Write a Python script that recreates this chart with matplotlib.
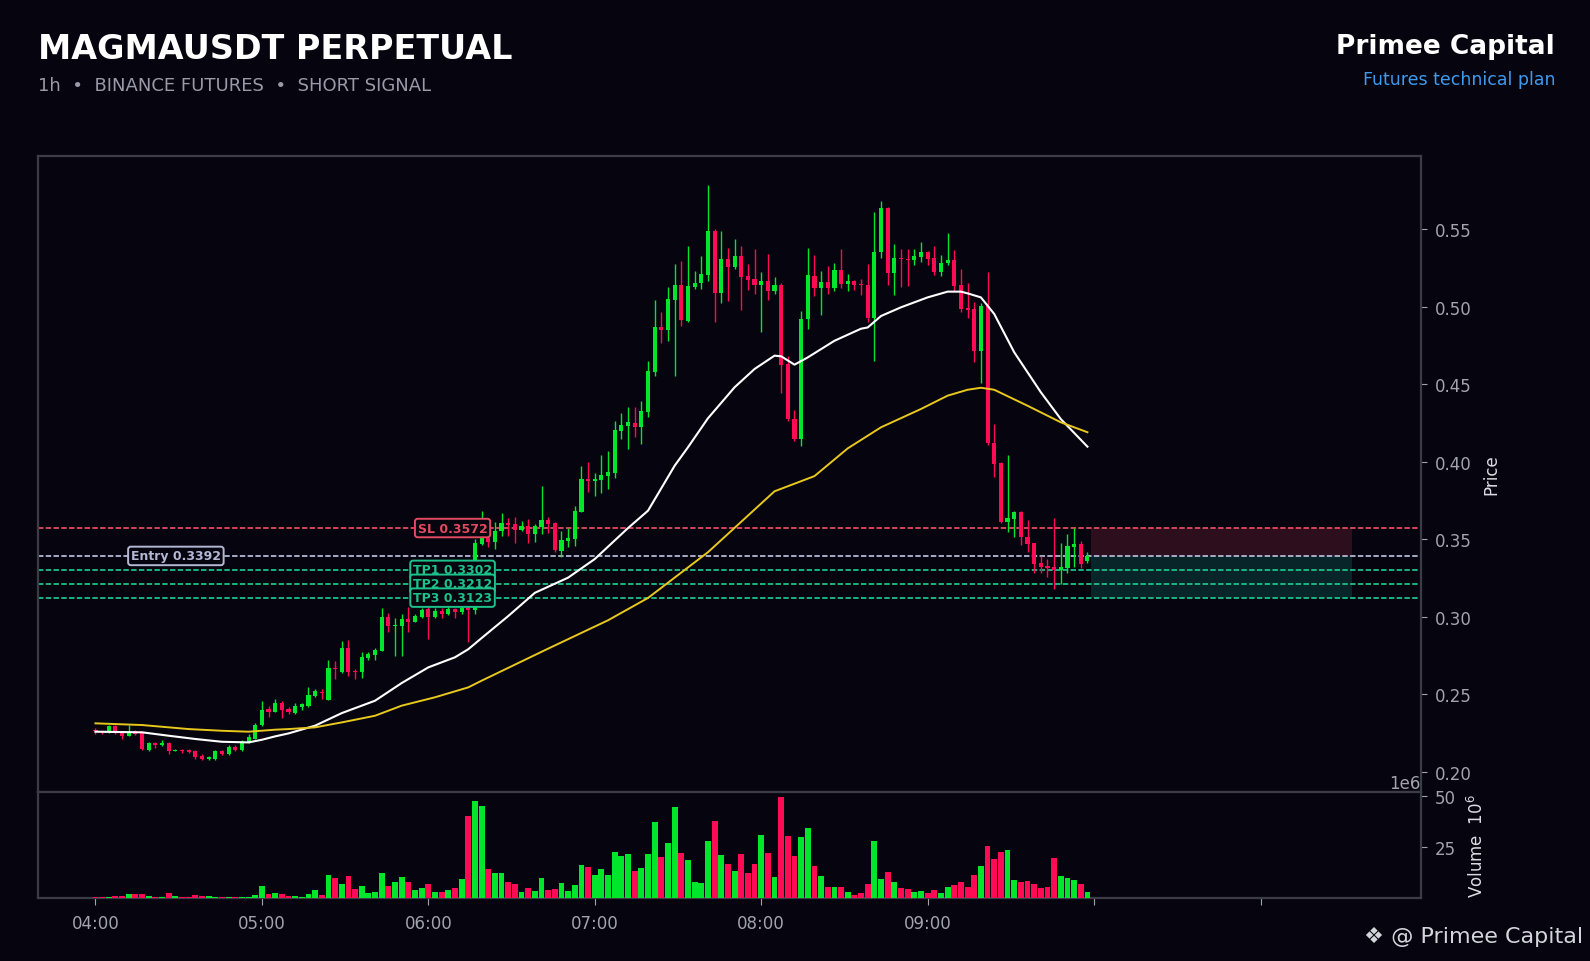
import numpy as np
import matplotlib
matplotlib.use("Agg")
import matplotlib.pyplot as plt
import matplotlib.transforms as mtransforms
from matplotlib.patches import Rectangle
from matplotlib.ticker import ScalarFormatter, FormatStrFormatter

# candles (2.4 min each, 25 per hour, first one at 04:00)
opens = [0.2271, 0.2260, 0.2265, 0.2294, 0.2253, 0.2232, 0.2260, 0.2249, 0.2140, 0.2188,
         0.2175, 0.2186, 0.2136, 0.2142, 0.2142, 0.2134, 0.2101, 0.2081, 0.2081, 0.2134,
         0.2114, 0.2162, 0.2140, 0.2190, 0.2212, 0.2301, 0.2404, 0.2388, 0.2445, 0.2406,
         0.2379, 0.2419, 0.2425, 0.2490, 0.2516, 0.2462, 0.2668, 0.2640, 0.2799, 0.2650,
         0.2644, 0.2734, 0.2755, 0.2781, 0.2998, 0.2941, 0.2941, 0.2985, 0.2967, 0.3000,
         0.3051, 0.3000, 0.3038, 0.3016, 0.3051, 0.3029, 0.3059, 0.3040, 0.3467, 0.3505,
         0.3482, 0.3554, 0.3605, 0.3596, 0.3559, 0.3583, 0.3535, 0.3581, 0.3625, 0.3605,
         0.3426, 0.3489, 0.3500, 0.3676, 0.3887, 0.3876, 0.3880, 0.3909, 0.3926, 0.4200,
         0.4230, 0.4250, 0.4226, 0.4321, 0.4580, 0.4867, 0.4849, 0.5042, 0.5139, 0.4908,
         0.5130, 0.5156, 0.5206, 0.5487, 0.5088, 0.5306, 0.5256, 0.5324, 0.5198, 0.5178,
         0.5141, 0.5165, 0.5102, 0.5143, 0.4630, 0.4273, 0.4145, 0.4919, 0.5198, 0.5119,
         0.5158, 0.5119, 0.5237, 0.5145, 0.5165, 0.5145, 0.5139, 0.4926, 0.5352, 0.5634,
         0.5217, 0.5313, 0.5306, 0.5302, 0.5321, 0.5354, 0.5313, 0.5224, 0.5280, 0.5300,
         0.5139, 0.4993, 0.4985, 0.4714, 0.5006, 0.4123, 0.3992, 0.3609, 0.3631, 0.3676,
         0.3515, 0.3474, 0.3346, 0.3326, 0.3322, 0.3302, 0.3313, 0.3452, 0.3467, 0.3359]
highs = [0.2282, 0.2263, 0.2301, 0.2301, 0.2258, 0.2301, 0.2271, 0.2260, 0.2190, 0.2193,
         0.2206, 0.2190, 0.2147, 0.2149, 0.2147, 0.2138, 0.2114, 0.2099, 0.2138, 0.2140,
         0.2173, 0.2173, 0.2204, 0.2243, 0.2314, 0.2458, 0.2423, 0.2468, 0.2456, 0.2415,
         0.2440, 0.2440, 0.2545, 0.2534, 0.2532, 0.2721, 0.2716, 0.2843, 0.2847, 0.2662,
         0.2773, 0.2775, 0.2801, 0.3059, 0.3024, 0.2990, 0.3016, 0.3063, 0.3018, 0.3054,
         0.3061, 0.3055, 0.3055, 0.3063, 0.3057, 0.3080, 0.3150, 0.3504, 0.3682, 0.3508,
         0.3613, 0.3672, 0.3636, 0.3642, 0.3618, 0.3631, 0.3596, 0.3842, 0.3642, 0.3611,
         0.3554, 0.3570, 0.3715, 0.3970, 0.3996, 0.3924, 0.4045, 0.4068, 0.4262, 0.4317,
         0.4356, 0.4356, 0.4391, 0.4652, 0.5041, 0.4967, 0.5128, 0.5278, 0.5293, 0.5389,
         0.5232, 0.5324, 0.5785, 0.5500, 0.5491, 0.5376, 0.5439, 0.5389, 0.5278, 0.5372,
         0.5222, 0.5339, 0.5189, 0.5156, 0.4682, 0.4332, 0.4970, 0.5376, 0.5332, 0.5232,
         0.5261, 0.5284, 0.5372, 0.5209, 0.5172, 0.5178, 0.5278, 0.5612, 0.5682, 0.5645,
         0.5404, 0.5372, 0.5372, 0.5372, 0.5416, 0.5358, 0.5389, 0.5332, 0.5473, 0.5365,
         0.5244, 0.5156, 0.5032, 0.5025, 0.5226, 0.4240, 0.3997, 0.4040, 0.3682, 0.3682,
         0.3625, 0.3478, 0.3390, 0.3372, 0.3636, 0.3478, 0.3533, 0.3570, 0.3489, 0.3416]
lows = [0.2243, 0.2243, 0.2249, 0.2243, 0.2214, 0.2228, 0.2234, 0.2142, 0.2136, 0.2153,
        0.2168, 0.2116, 0.2132, 0.2120, 0.2123, 0.2081, 0.2076, 0.2078, 0.2078, 0.2107,
        0.2107, 0.2136, 0.2136, 0.2184, 0.2208, 0.2295, 0.2355, 0.2384, 0.2349, 0.2375,
        0.2370, 0.2401, 0.2420, 0.2482, 0.2468, 0.2460, 0.2599, 0.2635, 0.2619, 0.2599,
        0.2606, 0.2721, 0.2721, 0.2779, 0.2898, 0.2749, 0.2749, 0.2898, 0.2965, 0.2992,
        0.2859, 0.2990, 0.2990, 0.3011, 0.2990, 0.3018, 0.2835, 0.3020, 0.3461, 0.3450,
        0.3435, 0.3522, 0.3518, 0.3474, 0.3551, 0.3474, 0.3482, 0.3535, 0.3537, 0.3416,
        0.3383, 0.3452, 0.3456, 0.3673, 0.3803, 0.3777, 0.3798, 0.3826, 0.3892, 0.4145,
        0.4084, 0.4160, 0.4117, 0.4291, 0.4550, 0.4765, 0.4776, 0.4550, 0.4875, 0.4904,
        0.5113, 0.5113, 0.5163, 0.4901, 0.5025, 0.5036, 0.5245, 0.4976, 0.5108, 0.5080,
        0.4839, 0.5043, 0.5080, 0.4445, 0.4262, 0.4134, 0.4101, 0.4858, 0.5069, 0.4947,
        0.5082, 0.5098, 0.5121, 0.5098, 0.5108, 0.5078, 0.4904, 0.4649, 0.5317, 0.5139,
        0.5073, 0.5130, 0.5134, 0.5267, 0.5291, 0.5267, 0.5204, 0.5196, 0.5267, 0.5101,
        0.4967, 0.4924, 0.4642, 0.4510, 0.4106, 0.3898, 0.3603, 0.3548, 0.3511, 0.3461,
        0.3420, 0.3280, 0.3280, 0.3259, 0.3179, 0.3208, 0.3285, 0.3318, 0.3313, 0.3346]
closes = [0.2260, 0.2256, 0.2294, 0.2265, 0.2232, 0.2253, 0.2243, 0.2147, 0.2186, 0.2173,
          0.2188, 0.2135, 0.2142, 0.2134, 0.2127, 0.2096, 0.2081, 0.2092, 0.2134, 0.2112,
          0.2162, 0.2140, 0.2190, 0.2221, 0.2301, 0.2399, 0.2388, 0.2445, 0.2399, 0.2384,
          0.2427, 0.2434, 0.2494, 0.2519, 0.2505, 0.2668, 0.2660, 0.2799, 0.2644, 0.2644,
          0.2740, 0.2760, 0.2788, 0.2998, 0.2941, 0.2948, 0.2985, 0.2967, 0.3007, 0.3046,
          0.3000, 0.3038, 0.3016, 0.3051, 0.3029, 0.3059, 0.3040, 0.3474, 0.3511, 0.3482,
          0.3554, 0.3605, 0.3592, 0.3561, 0.3583, 0.3533, 0.3583, 0.3625, 0.3600, 0.3433,
          0.3494, 0.3507, 0.3681, 0.3887, 0.3876, 0.3887, 0.3913, 0.3933, 0.4204, 0.4237,
          0.4258, 0.4226, 0.4326, 0.4585, 0.4867, 0.4849, 0.5047, 0.5139, 0.4915, 0.5132,
          0.5156, 0.5211, 0.5487, 0.5088, 0.5306, 0.5256, 0.5324, 0.5193, 0.5172, 0.5141,
          0.5165, 0.5102, 0.5143, 0.4626, 0.4273, 0.4145, 0.4919, 0.5204, 0.5119, 0.5158,
          0.5119, 0.5237, 0.5145, 0.5165, 0.5141, 0.5143, 0.4926, 0.5352, 0.5634, 0.5217,
          0.5313, 0.5306, 0.5300, 0.5326, 0.5354, 0.5306, 0.5224, 0.5280, 0.5300, 0.5134,
          0.4985, 0.4980, 0.4714, 0.5006, 0.4119, 0.3985, 0.3609, 0.3636, 0.3676, 0.3511,
          0.3467, 0.3339, 0.3318, 0.3313, 0.3302, 0.3318, 0.3456, 0.3467, 0.3339, 0.3389]
# volume in millions
volume_m = [0.5, 0.5, 0.5, 1.0, 1.0, 2.0, 2.0, 2.0, 1.0, 0.5,
            0.5, 2.5, 1.0, 0.5, 0.5, 1.5, 1.0, 1.0, 0.5, 0.5,
            0.5, 0.5, 0.5, 0.5, 1.5, 5.9, 2.0, 2.5, 2.0, 1.0,
            1.0, 0.5, 2.0, 3.9, 1.5, 11.3, 9.8, 6.9, 10.8, 4.4,
            5.9, 2.5, 3.0, 12.3, 5.9, 7.9, 10.3, 7.9, 3.9, 4.9,
            6.9, 3.0, 3.0, 3.9, 4.9, 9.3, 40.3, 47.7, 45.2, 14.3,
            12.3, 12.3, 7.9, 6.9, 3.0, 4.9, 3.4, 9.8, 3.9, 4.4,
            7.4, 3.4, 6.4, 16.2, 15.2, 11.3, 14.3, 11.3, 22.6, 20.7,
            21.6, 13.3, 14.8, 21.6, 37.4, 20.2, 27.0, 44.3, 22.1, 18.7,
            7.9, 7.4, 28.0, 37.9, 21.1, 16.7, 13.3, 21.6, 12.3, 16.7,
            31.0, 22.1, 10.3, 49.2, 30.5, 20.7, 30.0, 34.4, 15.7, 10.8,
            5.4, 5.4, 5.4, 3.0, 1.5, 2.5, 6.9, 28.0, 9.3, 12.8,
            7.9, 4.9, 4.4, 3.0, 3.4, 2.5, 3.9, 2.5, 5.4, 6.4,
            7.9, 5.4, 11.3, 15.7, 25.6, 19.2, 22.6, 23.6, 8.9, 7.9,
            8.4, 6.9, 4.9, 5.4, 19.7, 10.8, 9.8, 8.9, 6.9, 3.0]

# moving averages (candle index, price)
fast_ma_idx = [0, 7, 11, 15, 19, 23, 25, 27, 29, 33, 37, 42, 46, 50, 54, 56, 58, 62, 66, 71,
               75, 80, 83, 87, 89, 92, 96, 99, 102, 103, 105, 107, 111, 115, 116, 118, 121,
               125, 128, 130, 131, 133, 135, 138, 142, 145, 149]
fast_ma = [0.2258, 0.2254, 0.2232, 0.2211, 0.2193, 0.2189, 0.2206, 0.2228, 0.2247, 0.2297,
           0.2378, 0.2458, 0.2572, 0.2673, 0.2738, 0.2790, 0.2862, 0.3004, 0.3154, 0.3252,
           0.3372, 0.3572, 0.3684, 0.3974, 0.4093, 0.4280, 0.4480, 0.4598, 0.4684, 0.4680,
           0.4626, 0.4673, 0.4780, 0.4858, 0.4866, 0.4940, 0.4996, 0.5060, 0.5097, 0.5097,
           0.5086, 0.5060, 0.4953, 0.4706, 0.4448, 0.4275, 0.4097]
slow_ma_idx = [0, 7, 14, 19, 23, 27, 29, 33, 37, 42, 46, 51, 56, 58, 68, 77, 83, 92, 102,
               108, 113, 118, 124, 128, 131, 133, 135, 140, 145, 149]
slow_ma = [0.2312, 0.2301, 0.2275, 0.2264, 0.2258, 0.2271, 0.2275, 0.2286, 0.2318, 0.2361,
           0.2426, 0.2480, 0.2544, 0.2587, 0.2794, 0.2977, 0.3121, 0.3416, 0.3809, 0.3907,
           0.4086, 0.4222, 0.4340, 0.4426, 0.4464, 0.4477, 0.4464, 0.4361, 0.4254, 0.4190]

level_names = ["SL", "Entry", "TP1", "TP2", "TP3"]
level_values = [0.3572, 0.3392, 0.3302, 0.3212, 0.3123]

hour_labels = ["04:00", "05:00", "06:00", "07:00", "08:00", "09:00", "", ""]
candles_per_hour = 25

BG = "#06040f"
UP = "#00e62a"
DOWN = "#ff0a54"
SPINE = "#3c3c46"
TICKC = "#a3a3ad"
SL_C = "#e24a60"
ENTRY_C = "#b4b8d4"
TP_C = "#1cc28a"

o = np.array(opens)
h = np.array(highs)
l = np.array(lows)
c = np.array(closes)
v = np.array(volume_m) * 1e6
x = np.arange(len(c))
up = c >= o
cols = np.where(up, UP, DOWN)

fig = plt.figure(figsize=(15.9, 9.62), dpi=100, facecolor=BG)
ax = fig.add_axes([0.0236, 0.1760, 0.8701, 0.6611], facecolor=BG)
axv = fig.add_axes([0.0236, 0.0652, 0.8701, 0.1108], facecolor=BG, sharex=ax)

# zones to the right of the last candle
zone_start = len(c) - 0.5
zone_len = 39.2
ax.add_patch(Rectangle((zone_start, level_values[1]), zone_len,
                       level_values[0] - level_values[1], fc="#2d0e1c", ec="none", zorder=1))
ax.add_patch(Rectangle((zone_start, level_values[4]), zone_len,
                       level_values[1] - level_values[4], fc="#08262a", ec="none", zorder=1))

# levels
lvl_cols = [SL_C, ENTRY_C, TP_C, TP_C, TP_C]
lvl_xpos = [0.30, 0.10, 0.30, 0.30, 0.30]
trans = mtransforms.blended_transform_factory(ax.transAxes, ax.transData)
for name, val, col, xp in zip(level_names, level_values, lvl_cols, lvl_xpos):
    ax.axhline(val, color=col, lw=1.3, ls=(0, (3, 1.3)), zorder=2)
    ax.text(xp, val, f"{name} {val:.4f}", transform=trans, ha="center", va="center",
            fontsize=9, fontweight="bold", color=col, zorder=6,
            bbox=dict(boxstyle="round,pad=0.22", fc=BG, ec=col, lw=1.4))

# candles
ax.vlines(x, l, h, colors=cols, lw=1.0, zorder=3)
body = np.maximum(np.abs(c - o), 0.0006)
ax.bar(x, body, bottom=np.minimum(o, c), width=0.62, color=cols, zorder=4)

ax.plot(fast_ma_idx, fast_ma, color="white", lw=1.5, zorder=5)
ax.plot(slow_ma_idx, slow_ma, color="#e8c81c", lw=1.4, zorder=5)

ax.set_xlim(-8.7, 199.1)
ax.set_ylim(0.1871, 0.5974)
ax.set_yticks(np.arange(0.20, 0.56, 0.05))
ax.yaxis.set_major_formatter(FormatStrFormatter("%.2f"))
ax.yaxis.tick_right()
ax.yaxis.set_label_position("right")
ax.set_ylabel("Price", color="#dcdce4", fontsize=12, labelpad=8)
ax.tick_params(axis="y", colors=TICKC, labelsize=12, length=4, pad=6)
ax.tick_params(axis="x", bottom=False, labelbottom=False)

# volume
axv.bar(x, v, width=0.88, color=cols, zorder=3)
axv.set_ylim(0, 52e6)
axv.set_yticks([25e6, 50e6])
fmt = ScalarFormatter(useMathText=False)
fmt.set_powerlimits((6, 6))
axv.yaxis.set_major_formatter(fmt)
axv.yaxis.tick_right()
axv.yaxis.set_offset_position("right")
axv.yaxis.set_label_position("right")
axv.yaxis.get_offset_text().set_color(TICKC)
axv.yaxis.get_offset_text().set_fontsize(12)
axv.set_ylabel("Volume  $10^{6}$", color="#dcdce4", fontsize=12, labelpad=8)
axv.tick_params(axis="y", colors=TICKC, labelsize=12, length=4, pad=6)
axv.set_xticks(np.arange(len(hour_labels)) * candles_per_hour)
axv.set_xticklabels(hour_labels)
axv.tick_params(axis="x", colors=TICKC, labelsize=12, length=5, pad=6)

for a in (ax, axv):
    for s in a.spines.values():
        s.set_color(SPINE)
        s.set_linewidth(1.6)

# header
fig.text(0.0236, 0.949, "MAGMAUSDT PERPETUAL", color="white", fontsize=24,
         fontweight="bold", va="center", ha="left")
fig.text(0.0236, 0.9106, "1h  \u2022  BINANCE FUTURES  \u2022  SHORT SIGNAL", color="#9a9aa6",
         fontsize=13, va="center", ha="left")
fig.text(0.978, 0.951, "Primee Capital", color="white", fontsize=19,
         fontweight="bold", va="center", ha="right")
fig.text(0.978, 0.917, "Futures technical plan", color="#3d9bf0", fontsize=12.5,
         va="center", ha="right")
fig.text(0.9956, 0.026, "\u2756 @ Primee Capital", color="#d4d4dc", fontsize=16,
         va="center", ha="right")

fig.savefig("out.png", dpi=100, facecolor=BG)
